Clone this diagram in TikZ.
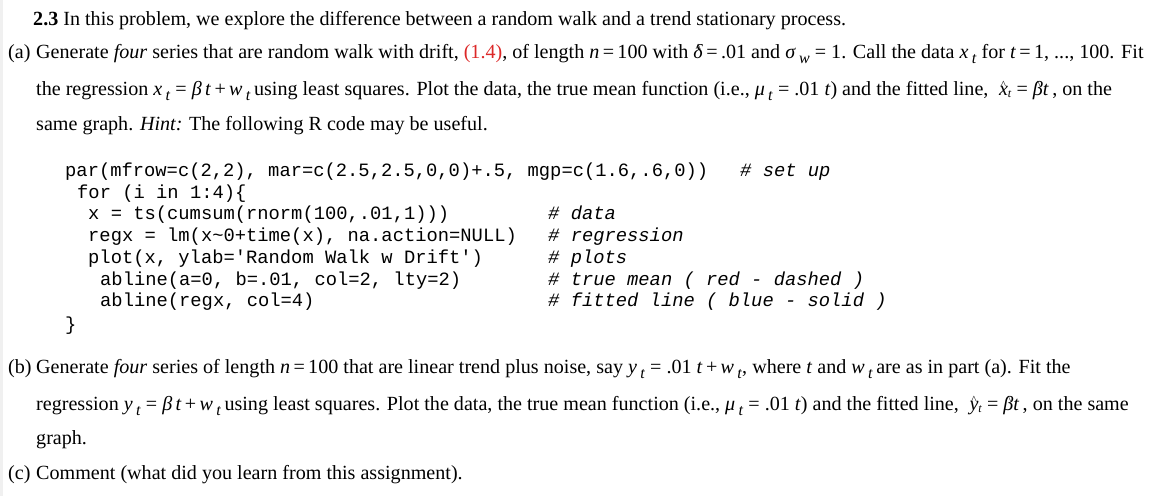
\documentclass[tikz,border=0pt]{standalone}
\usepackage{fontspec}
\setmainfont{Liberation Serif}
\setmonofont{Liberation Mono}
\definecolor{refred}{RGB}{220,40,40}
\newcommand{\sbt}[1]{\,\raisebox{-5pt}{\fontsize{16}{18}\selectfont\textit{#1}}}
\newcommand{\iv}[1]{\textit{#1}}
\newcommand{\hatit}[1]{\ooalign{\iv{#1}\cr\hidewidth\raisebox{7pt}{\fontsize{11}{11}\selectfont\textasciicircum}\hidewidth\cr}}
\begin{document}
\begin{tikzpicture}[x=1pt,y=-1pt,
  txt/.style={anchor=base west,inner sep=0pt,font=\fontsize{20.1}{22}\selectfont},
  code/.style={anchor=base west,inner sep=0pt,font=\fontsize{18.8}{20}\ttfamily},
  cmt/.style={anchor=base west,inner sep=0pt,font=\fontsize{18.8}{20}\ttfamily\itshape}]
\useasboundingbox (0,0) rectangle (1159,496);
\fill[black!6] (0,0) rectangle (3,496);
\node[txt] (t0) at (33,25) {\textbf{2.3} In this problem, we explore the difference between a random walk and a trend stationary process.};
\node[txt] (la) at (8,58) {(a)};
\node[txt] (a1) at (36,58) {Generate \textit{four} series that are random walk with drift, \textcolor{refred}{(1.4)}, of length \iv{n}\,=\,100 with \hatit{δ}\,=\,.01 and \iv{σ}\sbt{w} = 1. Call the data \iv{x}\sbt{t} for \iv{t}\,=\,1, ..., 100. Fit};
\node[txt] (a2) at (36,95) {the regression \iv{x}\sbt{t} = \iv{β}\,\iv{t}\,+\,\iv{w}\sbt{t}\,using least squares. Plot the data, the true mean function (i.e., \iv{μ}\sbt{t} = .01 \iv{t}) and the fitted line, \;\hatit{x}\raisebox{-2pt}{\fontsize{12}{12}\selectfont\iv{t}} = \hatit{β}\iv{t}\,, on the};
\node[txt] (a3) at (36,130) {same graph. \textit{Hint:} The following R code may be useful.};
\node[code] (c1) at (65,176) {par(mfrow=c(2,2), mar=c(2.5,2.5,0,0)+.5, mgp=c(1.6,.6,0))};
\node[cmt] (k1) at (740,176) {\# set up};
\node[code] (c2) at (77,198) {for (i in 1:4)\{};
\node[code] (c3) at (88,219) {x = ts(cumsum(rnorm(100,.01,1)))};
\node[cmt] (k3) at (548,219) {\# data};
\node[code] (c4) at (88,241) {regx = lm(x\char`~0+time(x), na.action=NULL)};
\node[cmt] (k4) at (548,241) {\# regression};
\node[code] (c5) at (88,263) {plot(x, ylab='Random Walk w Drift')};
\node[cmt] (k5) at (548,263) {\# plots};
\node[code] (c6) at (100,285) {abline(a=0, b=.01, col=2, lty=2)};
\node[cmt] (k6) at (548,285) {\# true mean ( red - dashed )};
\node[code] (c7) at (100,306) {abline(regx, col=4)};
\node[cmt] (k7) at (548,306) {\# fitted line ( blue - solid )};
\node[code] (c8) at (65,330) {\}};
\node[txt] (lb) at (8,373) {(b)};
\node[txt] (b1) at (36,373) {Generate \textit{four} series of length \iv{n}\,=\,100 that are linear trend plus noise, say \iv{y}\sbt{t} = .01 \iv{t}\,+\,\iv{w}\sbt{t}, where \iv{t} and \iv{w}\sbt{t}\,are as in part (a). Fit the};
\node[txt] (b2) at (36,410) {regression \iv{y}\sbt{t} = \iv{β}\,\iv{t}\,+\,\iv{w}\sbt{t}\,using least squares. Plot the data, the true mean function (i.e., \iv{μ}\sbt{t} = .01 \iv{t}) and the fitted line, \;\hatit{y}\raisebox{-2pt}{\fontsize{12}{12}\selectfont\iv{t}} = \hatit{β}\iv{t}\,, on the same};
\node[txt] (b3) at (36,444) {graph.};
\node[txt] (lc) at (8,479) {(c)};
\node[txt] (c1t) at (36,479) {Comment (what did you learn from this assignment).};
\end{tikzpicture}
\end{document}
